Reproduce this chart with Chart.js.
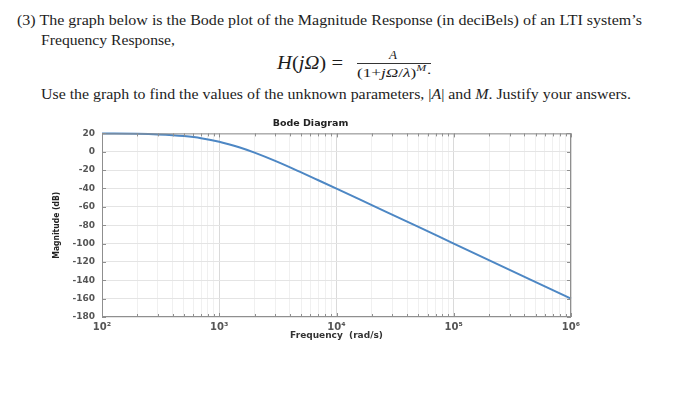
<!DOCTYPE html>
<html>
<head>
<meta charset="utf-8">
<script src="https://cdn.jsdelivr.net/npm/chart.js@4/dist/chart.umd.min.js"></script>
<style>
  html, body { margin: 0; padding: 0; background: #fff; }
  #wrap { position: relative; width: 700px; height: 398px; overflow: hidden; }
  #chart { position: absolute; left: 0; top: 0; }
  .t {
    position: absolute; white-space: nowrap; line-height: 1;
    font-family: 'Liberation Serif', 'Times New Roman', serif;
    color: #1d1d1d; transform-origin: 0 0;
  }
  .bar { position: absolute; height: 1px; background: #333; }
</style>
</head>
<body>
<div id="wrap">
  <div class="t" data-x="17" data-base="25.5" data-size="15" data-w="625">(3) The graph below is the Bode plot of the Magnitude Response (in deciBels) of an LTI system’s</div>
  <div class="t" data-x="41" data-base="45.5" data-size="15" data-w="134">Frequency Response,</div>
  <div class="t" data-x="277" data-base="69" data-size="19" data-w="66"><i>H</i>(<i>j</i><i>Ω</i>) =</div>
  <div class="t" data-x="389" data-base="59" data-size="12" data-w="8"><i>A</i></div>
  <div class="bar" style="left:357px;top:63px;width:74px;"></div>
  <div class="t" data-x="357" data-base="77" data-size="13" data-w="75">(1+<i>j</i><i>Ω</i>/<i>λ</i>)<span style="font-size:9px;position:relative;top:-6px;font-style:italic">M</span>·</div>
  <div class="t" data-x="41" data-base="100" data-size="15" data-w="590">Use the graph to find the values of the unknown parameters, |<i>A</i>| and <i>M</i>. Justify your answers.</div>
  <canvas id="chart" width="700" height="398"></canvas>
</div>
<script>
// magnitude response (rad/s, dB)
const freqs = [100, 200, 300, 400, 500, 700, 1000, 1500, 2000, 3000, 5000, 7000, 10000, 20000, 50000, 100000, 1000000];
const magDb = [19.9, 19.5, 18.9, 18.1, 17.1, 14.8, 11.0, 4.6, -1.0, -10.0, -22.5, -31.0, -40.1, -58.1, -81.9, -100.0, -160.0];

const xMajor = [100, 1000, 10000, 100000, 1000000];
const xLabels = ['10²', '10³', '10⁴', '10⁵', '10⁶'];
const yTicks = [20, 0, -20, -40, -60, -80, -100, -120, -140, -160, -180];

const LINE = '#4d87c4';
const FRAME = '#8f8f8f';
const tickFont = { family: "'DejaVu Sans', sans-serif", size: 9, weight: 'bold' };

// place the question text on its baselines, squeezed to the measured widths
document.querySelectorAll('.t').forEach(el => {
  const size = +el.dataset.size;
  el.style.fontSize = size + 'px';
  el.style.left = el.dataset.x + 'px';
  el.style.top = (+el.dataset.base - 0.8375 * size) + 'px';
  const w = el.getBoundingClientRect().width;
  el.style.transform = `scaleX(${(+el.dataset.w / w).toFixed(4)})`;
});

// minor positions 2..9 inside each decade
const xAll = [];
xMajor.forEach((m, i) => {
  xAll.push(m);
  if (i < xMajor.length - 1) for (let k = 2; k <= 9; k++) xAll.push(m * k);
});
const isMajor = v => xMajor.includes(v);

// MATLAB-ish box with inward tick marks
const frame = {
  id: 'frame',
  afterDraw(chart) {
    const { ctx, chartArea: { left, right, top, bottom } } = chart;
    const xs = chart.scales.x, ys = chart.scales.y;
    ctx.save();
    ctx.strokeStyle = FRAME;
    ctx.lineWidth = 1;
    ctx.strokeRect(left + 0.5, top + 0.5, right - left - 1, bottom - top - 1);
    ctx.beginPath();
    ys.ticks.forEach(t => {
      const y = Math.round(ys.getPixelForValue(t.value)) + 0.5;
      ctx.moveTo(left, y); ctx.lineTo(left + 4, y);
      ctx.moveTo(right, y); ctx.lineTo(right - 4, y);
    });
    xs.ticks.forEach(t => {
      const x = Math.round(xs.getPixelForValue(t.value)) + 0.5;
      const len = isMajor(t.value) ? 4 : 3;
      ctx.moveTo(x, bottom); ctx.lineTo(x, bottom - len);
      ctx.moveTo(x, top); ctx.lineTo(x, top + len);
    });
    ctx.stroke();
    ctx.restore();
  }
};

new Chart(document.getElementById('chart'), {
  type: 'line',
  data: {
    datasets: [{
      data: freqs.map((f, i) => ({ x: f, y: magDb[i] })),
      borderColor: LINE,
      borderWidth: 2,
      pointRadius: 0,
      cubicInterpolationMode: 'monotone',
      clip: false
    }]
  },
  options: {
    responsive: false,
    animation: false,
    events: [],
    layout: { padding: { left: 50, right: 129, top: 118, bottom: 57 } },
    plugins: {
      legend: { display: false },
      tooltip: { enabled: false },
      title: {
        display: true,
        text: 'Bode Diagram',
        color: '#222',
        font: { family: "'DejaVu Sans', sans-serif", size: 9.5, weight: 'bold' },
        padding: { top: 0, bottom: 4 }
      }
    },
    scales: {
      x: {
        type: 'logarithmic',
        min: 100,
        max: 1000000,
        afterBuildTicks: s => { s.ticks = xAll.map(v => ({ value: v })); },
        afterFit: s => { s.height = 24; },
        border: { display: false },
        grid: {
          drawTicks: false,
          color: c => isMajor(c.tick.value) ? '#dadada' : '#f0f0f0'
        },
        ticks: {
          autoSkip: false,
          maxRotation: 0,
          padding: 4,
          color: '#555',
          font: { family: "'DejaVu Sans', sans-serif", size: 10, weight: 'bold' },
          callback: v => isMajor(v) ? xLabels[xMajor.indexOf(v)] : ''
        },
        title: {
          display: true,
          text: 'Frequency  (rad/s)',
          color: '#333',
          font: { family: "'DejaVu Sans', sans-serif", size: 9, weight: 'bold' },
          padding: { top: 0, bottom: 0 }
        }
      },
      y: {
        min: -180,
        max: 20,
        afterBuildTicks: s => { s.ticks = yTicks.map(v => ({ value: v })); },
        afterFit: s => { s.width = 52; },
        border: { display: false },
        grid: { drawTicks: false, color: '#e4e4e4' },
        ticks: { padding: 7, color: '#555', font: tickFont },
        title: {
          display: true,
          text: 'Magnitude (dB)',
          color: '#222',
          font: { family: "'DejaVu Sans Condensed', 'DejaVu Sans', sans-serif", size: 8.5, weight: 'bold' },
          padding: { top: 2, bottom: 0 }
        }
      }
    }
  },
  plugins: [frame]
});
</script>
</body>
</html>
